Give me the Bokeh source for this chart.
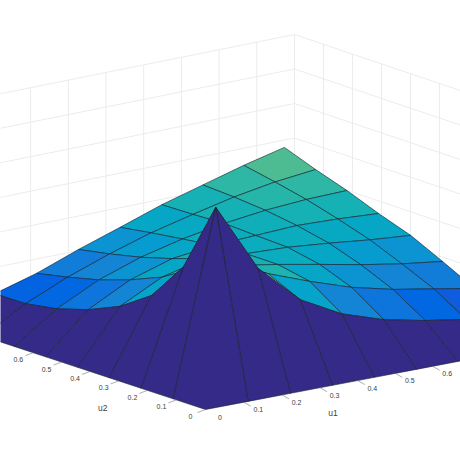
from bokeh.plotting import figure
from bokeh.embed import file_html
from bokeh.resources import INLINE
from bokeh.models import ColumnDataSource, LinearColorMapper, Range1d
from bokeh.core.properties import value

u1_grid = [0, .111, .222, .333, .444, .556, .667, .778, .889]
u2_grid = [0, .111, .222, .333, .444, .556, .667, .778, .889]
# z over u1_grid, one list per u2 value
z_u2_00 = [0, 0, 0, 0, 0, 0, 0, 0, 0]
z_u2_01 = [0, .466, .293, .194, .138, .103, .081, .064, .046]
z_u2_02 = [0, .291, .288, .236, .197, .162, .137, .119, .100]
z_u2_03 = [0, .192, .243, .232, .216, .197, .177, .160, .147]
z_u2_04 = [0, .138, .195, .225, .219, .217, .209, .199, .192]
z_u2_05 = [0, .103, .162, .199, .215, .223, .231, .230, .226]
z_u2_06 = [0, .079, .136, .177, .207, .230, .247, .258, .264]
z_u2_07 = [0, .066, .117, .160, .198, .229, .258, .281, .297]
z_u2_08 = [0, .066, .101, .146, .187, .230, .266, .302, .334]
z_rows = [z_u2_00, z_u2_01, z_u2_02, z_u2_03, z_u2_04, z_u2_05, z_u2_06, z_u2_07, z_u2_08]

u1_ticks = [0, .1, .2, .3, .4, .5, .6]
u2_ticks = [0, .1, .2, .3, .4, .5, .6]
tick_labels = ["0", "0.1", "0.2", "0.3", "0.4", "0.5", "0.6"]
wall_u1 = [.1, .2, .3, .4, .5, .6, .7, .8, .9, 1]
wall_u2 = [.1, .2, .3, .4, .5, .6, .7, .8, .9, 1]
wall_z = [0, .1, .2, .3, .4, .5, .6]

parula = [[0.2081,0.1663,0.5292],[0.2116,0.1898,0.5777],[0.2123,0.2138,0.6270],[0.2081,0.2386,0.6771],[0.1959,0.2645,0.7279],[0.1707,0.2919,0.7792],[0.1253,0.3242,0.8303],[0.0591,0.3598,0.8683],[0.0117,0.3875,0.8820],[0.0060,0.4086,0.8828],[0.0165,0.4266,0.8786],[0.0329,0.4430,0.8720],[0.0498,0.4586,0.8641],[0.0629,0.4737,0.8554],[0.0723,0.4887,0.8467],[0.0779,0.5040,0.8384],[0.0793,0.5200,0.8312],[0.0749,0.5375,0.8263],[0.0641,0.5570,0.8240],[0.0488,0.5772,0.8228],[0.0343,0.5966,0.8199],[0.0265,0.6137,0.8135],[0.0239,0.6287,0.8038],[0.0231,0.6418,0.7913],[0.0228,0.6535,0.7768],[0.0267,0.6642,0.7607],[0.0384,0.6743,0.7436],[0.0590,0.6838,0.7254],[0.0843,0.6928,0.7062],[0.1133,0.7015,0.6859],[0.1453,0.7098,0.6646],[0.1801,0.7177,0.6424],[0.2178,0.7250,0.6193],[0.2586,0.7317,0.5954],[0.3022,0.7376,0.5712],[0.3482,0.7424,0.5473],[0.3953,0.7459,0.5244],[0.4420,0.7481,0.5033],[0.4871,0.7491,0.4840],[0.5300,0.7491,0.4661],[0.5709,0.7485,0.4494],[0.6099,0.7473,0.4337],[0.6473,0.7456,0.4188],[0.6834,0.7435,0.4044],[0.7184,0.7411,0.3905],[0.7525,0.7384,0.3768],[0.7858,0.7356,0.3633],[0.8185,0.7327,0.3498],[0.8507,0.7299,0.3360],[0.8824,0.7274,0.3217],[0.9139,0.7258,0.3063],[0.9450,0.7261,0.2886],[0.9739,0.7314,0.2666],[0.9938,0.7455,0.2403],[0.9990,0.7653,0.2164],[0.9955,0.7861,0.1967],[0.9880,0.8066,0.1794],[0.9789,0.8271,0.1633],[0.9697,0.8481,0.1475],[0.9626,0.8705,0.1309],[0.9589,0.8949,0.1132],[0.9598,0.9218,0.0948],[0.9661,0.9514,0.0755],[0.9763,0.9831,0.0538]]
palette = ["#%02x%02x%02x" % tuple(int(round(c * 255)) for c in rgb) for rgb in parula]
mapper = LinearColorMapper(palette=palette, low=0, high=.52)


def surf_xy(a, b, z):
    w = 1 + .027 * (a + b)
    x = (205 + 390.3 * a - 286.2 * b) / w
    y = (409 - 62.2 * a - 85.1 * b) / w - 400 * z / (1 + .072 * (a + b))
    return x, y


def wall_xy(a, b, z):
    return (294 - 377 * (1 - a) + 290 * (1 - b),
            241 + 76 * (1 - a) + 98 * (1 - b) - 345 * z)


p = figure(width=460, height=460, output_backend="svg", toolbar_location=None,
           x_range=Range1d(0, 460), y_range=Range1d(460, 0),
           x_axis_type=None, y_axis_type=None, min_border=0,
           outline_line_color=None, background_fill_color="white")
p.grid.visible = False

# back walls
gx, gy = [], []
for t in wall_u1:
    a = wall_xy(t, 1, wall_z[0]); b = wall_xy(t, 1, wall_z[-1])
    gx.append([a[0], b[0]]); gy.append([a[1], b[1]])
for t in wall_u2:
    a = wall_xy(1, t, wall_z[0]); b = wall_xy(1, t, wall_z[-1])
    gx.append([a[0], b[0]]); gy.append([a[1], b[1]])
for z in wall_z:
    a = wall_xy(0, 1, z); b = wall_xy(1, 1, z); c = wall_xy(1, 0, z)
    gx.append([a[0], b[0], c[0]]); gy.append([a[1], b[1], c[1]])
p.multi_line(gx, gy, line_color="#ececec", line_width=1)

# surface cells, far ones first, then the front skirt
cells = []
n = len(u1_grid)
for j in range(n - 1):
    for i in range(n - 1):
        corners = [(i, j), (i + 1, j), (i + 1, j + 1), (i, j + 1)]
        pts = [surf_xy(u1_grid[q], u2_grid[r], z_rows[r][q]) for q, r in corners]
        front = 0 if (i == 0 or j == 0) else 1
        cells.append((front, i + j, [t[0] for t in pts], [t[1] for t in pts], z_rows[j][i]))
cells.sort(key=lambda c: (-c[0], -c[1]))
src = ColumnDataSource(dict(xs=[c[2] for c in cells], ys=[c[3] for c in cells], c=[c[4] for c in cells]))
p.patches("xs", "ys", source=src, fill_color={"field": "c", "transform": mapper},
          line_color="#10202c", line_width=0.6)

# ticks and labels
tx0, ty0, tx1, ty1 = [], [], [], []
for t in u2_ticks:
    x, y = surf_xy(0, t, 0)
    tx0.append(x); ty0.append(y); tx1.append(x - 8); ty1.append(y + 3)
for t in u1_ticks[1:]:
    x, y = surf_xy(t, 0, 0)
    tx0.append(x); ty0.append(y); tx1.append(x + 7); ty1.append(y + 4)
p.segment(tx0, ty0, tx1, ty1, line_color="#777777", line_width=0.6)

ux = [surf_xy(0, t, 0) for t in u2_ticks]
p.text([c[0] for c in ux], [c[1] for c in ux], text=tick_labels, x_offset=-15, y_offset=7,
       text_font=value("Liberation Sans"), text_font_size="7px", text_color="#404040",
       text_align="center", text_baseline="middle")
vx = [surf_xy(t, 0, 0) for t in u1_ticks]
p.text([c[0] for c in vx], [c[1] for c in vx], text=tick_labels, x_offset=14.5, y_offset=7.5,
       text_font=value("Liberation Sans"), text_font_size="7px", text_color="#404040",
       text_align="center", text_baseline="middle")
n1 = surf_xy(.3, 0, 0); n2 = surf_xy(0, .3, 0)
p.text([n1[0]], [n1[1]], text=["u1"], x_offset=13, y_offset=25,
       text_font=value("Liberation Sans"), text_font_size="8.5px", text_color="#404040",
       text_align="center", text_baseline="middle")
p.text([n2[0]], [n2[1]], text=["u2"], x_offset=-16, y_offset=27,
       text_font=value("Liberation Sans"), text_font_size="8.5px", text_color="#404040",
       text_align="center", text_baseline="middle")

open("out.html", "w").write(file_html(p, INLINE))
